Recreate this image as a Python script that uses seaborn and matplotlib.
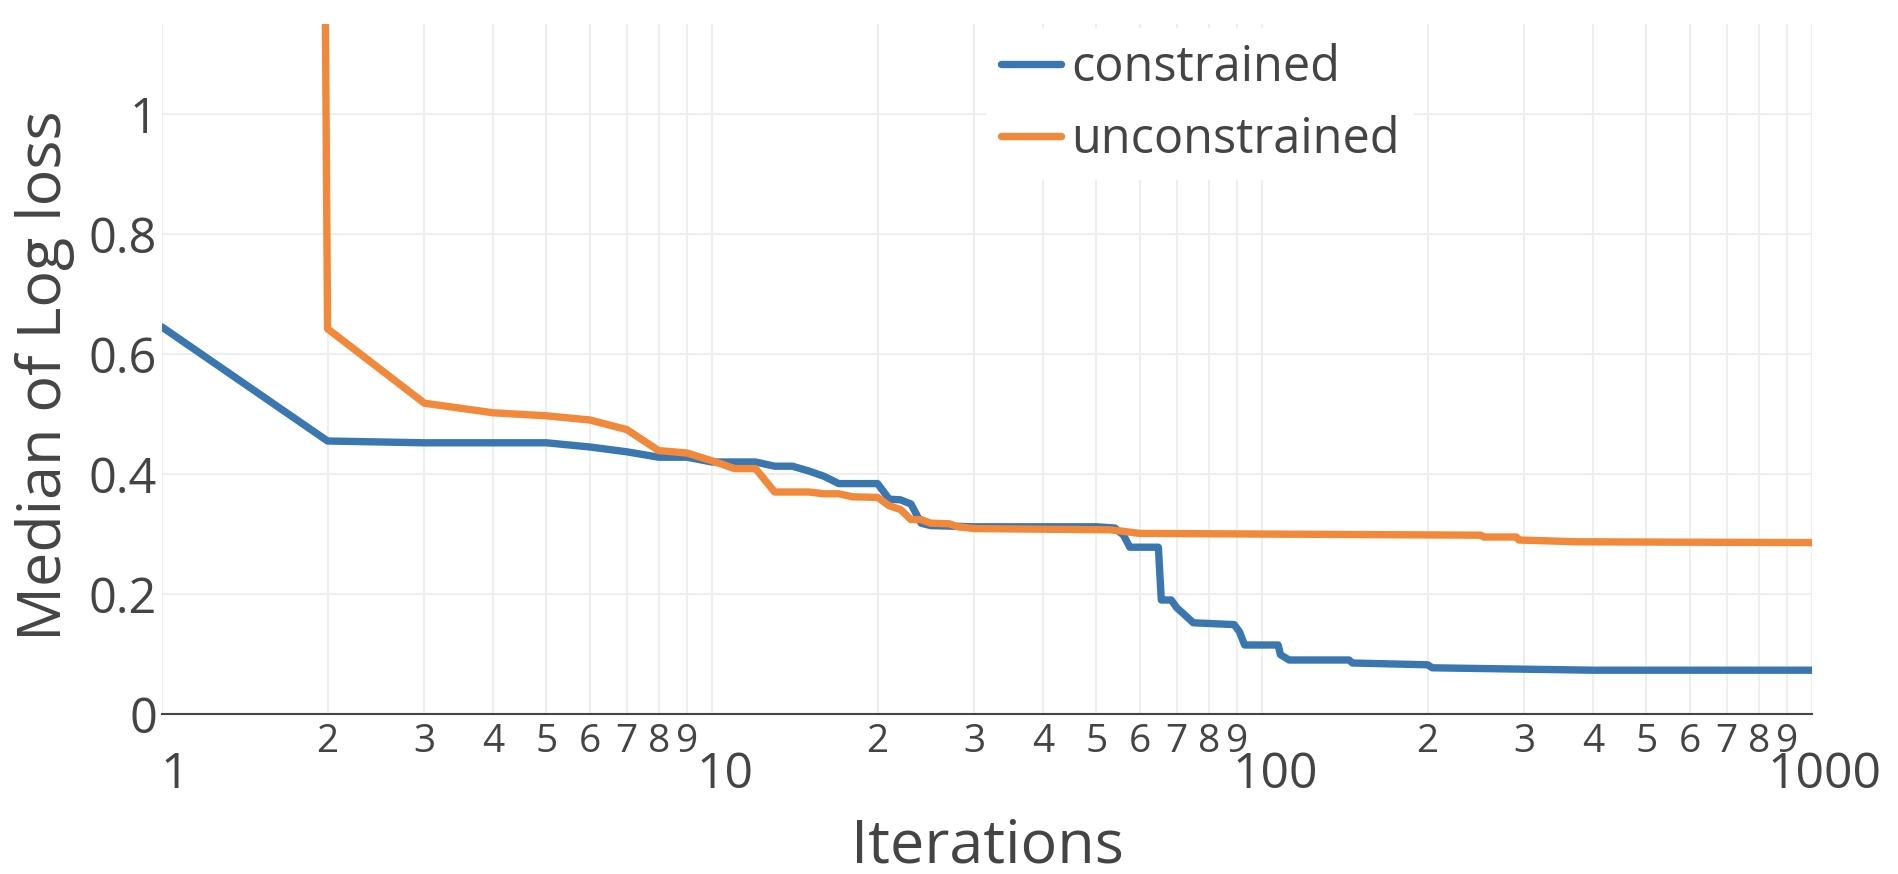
import numpy as np
import pandas as pd
import matplotlib
matplotlib.use("Agg")
import matplotlib.pyplot as plt
import matplotlib.transforms as mtransforms
from matplotlib.ticker import FixedLocator, FuncFormatter
import seaborn as sns

# --- data (median log loss per iteration) ---
constrained_iter = [1, 2, 3, 4, 5, 6, 7, 8, 9, 10, 12, 13, 14, 15, 16, 17, 20,
                    21, 22, 23, 24, 25, 30, 50, 54, 56, 57.5, 64.8, 65.6, 68.4,
                    70, 72, 75, 89, 91, 93, 107, 108, 112, 144, 146, 200, 204,
                    400, 1000]
constrained_loss = [0.645, 0.455, 0.452, 0.452, 0.452, 0.445, 0.437, 0.428, 0.428,
                    0.420, 0.420, 0.413, 0.413, 0.405, 0.396, 0.384, 0.384,
                    0.358, 0.357, 0.350, 0.318, 0.314, 0.312, 0.312, 0.310, 0.298,
                    0.278, 0.278, 0.190, 0.190, 0.177, 0.167, 0.152, 0.149, 0.137,
                    0.115, 0.115, 0.099, 0.090, 0.090, 0.085, 0.082, 0.077,
                    0.073, 0.073]

unconstrained_iter = [1, 2, 3, 4, 5, 6, 7, 8, 9, 10, 11, 12, 13, 15, 16, 17, 18,
                      20, 21, 22, 23, 24, 25, 27, 28, 30, 40, 53, 60, 250, 253,
                      290, 293, 375, 1000]
unconstrained_loss = [40.0, 0.642, 0.518, 0.502, 0.497, 0.490, 0.474, 0.439, 0.435,
                      0.422, 0.409, 0.409, 0.370, 0.370, 0.367, 0.367, 0.362,
                      0.361, 0.347, 0.341, 0.324, 0.324, 0.318, 0.317, 0.312,
                      0.309, 0.308, 0.307, 0.301, 0.298, 0.295, 0.295, 0.290,
                      0.287, 0.2856]

series_names = ["constrained", "unconstrained"]
series_colors = ["#3a76af", "#f1883a"]

y_ticks = [0, 0.2, 0.4, 0.6, 0.8, 1]
x_major = [1, 10, 100, 1000]
x_minor = [m * d for d in [1, 10, 100] for m in range(2, 10)]

df = pd.concat([
    pd.DataFrame({"Iterations": constrained_iter, "loss": constrained_loss,
                  "series": series_names[0]}),
    pd.DataFrame({"Iterations": unconstrained_iter, "loss": unconstrained_loss,
                  "series": series_names[1]}),
])

sns.set_theme(style="white")
plt.rcParams["font.family"] = ["Open Sans", "DejaVu Sans"]
text_color = "#444444"

fig = plt.figure(figsize=(18.98, 8.74), dpi=100)
ax = fig.add_axes([162 / 1898, 160 / 874, 1650 / 1898, 690 / 874])

for name, color in zip(series_names, series_colors):
    sns.lineplot(data=df[df["series"] == name], x="Iterations", y="loss",
                 color=color, linewidth=5.3, label=name, ax=ax,
                 estimator=None, sort=False)

ax.set_xscale("log")
ax.set_xlim(1, 1000)
ax.set_ylim(0, 1.15)

# gridlines on every decade digit, like plotly's D1 log axis
ax.xaxis.set_major_locator(FixedLocator(x_major))
ax.xaxis.set_minor_locator(FixedLocator(x_minor))
ax.xaxis.set_major_formatter(FuncFormatter(lambda v, p: f"{v:g}"))
ax.xaxis.set_minor_formatter(FuncFormatter(lambda v, p: str(int(round(v / 10 ** np.floor(np.log10(v) + 1e-9))))))
ax.yaxis.set_major_locator(FixedLocator(y_ticks))
ax.yaxis.set_major_formatter(FuncFormatter(lambda v, p: f"{v:g}"))

ax.grid(True, which="both", axis="x", color="#eeeeee", linewidth=1.5)
ax.grid(True, which="major", axis="y", color="#eeeeee", linewidth=1.5)
ax.set_axisbelow(True)

ax.tick_params(axis="x", which="major", length=0, pad=26, labelsize=36, labelcolor=text_color)
ax.tick_params(axis="x", which="minor", length=0, pad=6.5, labelsize=28, labelcolor=text_color)
ax.tick_params(axis="y", which="major", length=0, pad=3.6, labelsize=35, labelcolor=text_color)

# major decade labels sit a little to the right of their tick
offset = mtransforms.ScaledTranslation(0.13, 0, fig.dpi_scale_trans)
for lab in ax.xaxis.get_majorticklabels():
    lab.set_transform(lab.get_transform() + offset)

for side in ["top", "right", "left"]:
    ax.spines[side].set_visible(False)
ax.spines["bottom"].set_color(text_color)
ax.spines["bottom"].set_linewidth(1.5)

ax.set_xlabel("Iterations", fontsize=44, color=text_color)
ax.set_ylabel("Median of Log loss", fontsize=44, color=text_color)
ax.xaxis.set_label_coords(0.5, -0.149)
ax.yaxis.set_label_coords(-0.053, 0.49)

leg = ax.legend(loc="center left", bbox_to_anchor=(986 / 1898, (874 - 104) / 874),
                bbox_transform=fig.transFigure, fontsize=35, frameon=True,
                handlelength=1.25, handletextpad=0.2, labelspacing=0.47,
                borderpad=0.3, borderaxespad=0)
leg.get_frame().set_facecolor("white")
leg.get_frame().set_edgecolor("none")
leg.get_frame().set_alpha(1)
for t in leg.get_texts():
    t.set_color(text_color)

fig.savefig("out.png", dpi=100)
